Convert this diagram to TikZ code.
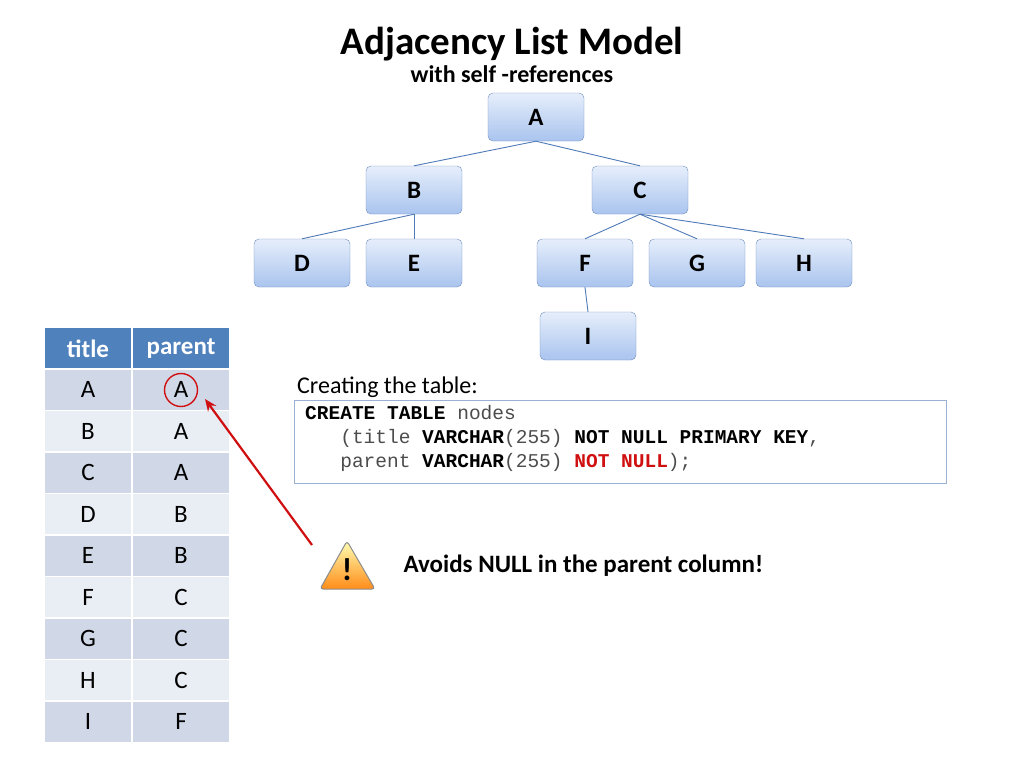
\documentclass[tikz,border=0pt]{standalone}
\usepackage{fontspec}
\setmainfont{Carlito}
\setmonofont{Liberation Mono}
\usetikzlibrary{calc, arrows.meta, positioning}
\definecolor{hdrblue}{HTML}{4F81BD}
\definecolor{rowdark}{HTML}{D0D8E8}
\definecolor{rowlight}{HTML}{E9EDF4}
\definecolor{boxtop}{HTML}{E6EEFB}
\definecolor{boxbot}{HTML}{A9C4EE}
\definecolor{boxline}{HTML}{6F8FBF}
\definecolor{linkblue}{HTML}{4F7AB8}
\definecolor{sqlred}{HTML}{D01010}
\tikzset{
  treebox/.style={draw=boxline, rounded corners=5pt, top color=boxtop, bottom color=boxbot,
    minimum width=96pt, minimum height=48pt, font=\fontsize{25}{27}\selectfont\bfseries},
  link/.style={draw=linkblue, line width=0.9pt},
  cell/.style={minimum width=86pt, minimum height=40pt, font=\fontsize{25}{27}\selectfont}
}
\begin{document}
\begin{tikzpicture}[x=1pt,y=-1pt]
            \useasboundingbox (0,0) rectangle (1024,768);
            % title
            \node[font=\fontsize{39}{41}\selectfont\bfseries] (ttl) at (512,44) {Adjacency List Model};
            \node[font=\fontsize{24}{26}\selectfont\bfseries] (sub) at (512,74) {with self -references};
            % tree
            \node[treebox] (a) at (536,117) {A};
            \node[treebox] (b) at (414,190) {B};
            \node[treebox] (c) at (640,190) {C};
            \node[treebox] (d) at (302,263) {D};
            \node[treebox] (e) at (414,263) {E};
            \node[treebox] (f) at (585,263) {F};
            \node[treebox] (g) at (697,263) {G};
            \node[treebox] (h) at (804,263) {H};
            \node[treebox] (i) at (588,336) {I};
            \draw[link] (a.south) -- (b.north);
            \draw[link] (a.south) -- (c.north);
            \draw[link] (b.south) -- (d.north);
            \draw[link] (b.south) -- (e.north);
            \draw[link] (c.south) -- (f.north);
            \draw[link] (c.south) -- (g.north);
            \draw[link] (c.south) -- (h.north);
            \draw[link] (f.south) -- (i.north);
            % table
            \fill[hdrblue] (45,328) rectangle (229,369);
            \node[font=\fontsize{25}{27}\selectfont\bfseries, text=white] (htitle) at (88,349) {title};
            \node[font=\fontsize{25}{27}\selectfont\bfseries, text=white] (hparent) at (181,349) {parent};
            \foreach \t/\p [count=\k from 0] in {A/A,B/A,C/A,D/B,E/B,F/C,G/C,H/C,I/F} {
              \pgfmathsetmacro{\ytop}{369+41.5*\k}
              \ifodd\k \def\rc{rowlight}\else\def\rc{rowdark}\fi
              \fill[\rc] (45,\ytop) rectangle (229,\ytop+41.5);
              \node[cell] (t\k) at (88,\ytop+20.75) {\t};
              \node[cell] (p\k) at (181,\ytop+20.75) {\p};
            }
            \foreach \k in {0,...,9} \draw[white, line width=1.5pt] (45,369+41.5*\k) -- (229,369+41.5*\k);
            \draw[white, line width=1.5pt] (132,328) -- (132,743);
            % circle and arrow
            \node[draw=sqlred, circle, line width=1.4pt, minimum size=33pt] (ring) at (181,390) {};
            \coordinate (tail) at (312,545);
            \draw[sqlred, line width=2.2pt, -{Stealth[length=12pt,width=10pt]}] (tail) -- (205,399);
            % code
            \node[anchor=south west, inner sep=0pt, font=\fontsize{24}{26}\selectfont] (cap) at (297,398) {Creating the table:};
            \node[draw=boxline!70, anchor=north west, minimum width=652pt, minimum height=83pt] (code) at (294,400) {};
            \node[anchor=north west, align=left, inner sep=0pt, font=\fontsize{19.5}{24}\selectfont\ttfamily] (sql) at (305,405)
              {\textbf{CREATE TABLE} {\color{black!70}nodes}\\
               {\color{black!70}\ \ \ (title} \textbf{VARCHAR}{\color{black!70}(255)} \textbf{NOT NULL PRIMARY KEY}{\color{black!70},}\\
               {\color{black!70}\ \ \ parent} \textbf{VARCHAR}{\color{black!70}(255)} {\color{sqlred}\textbf{NOT NULL}}{\color{black!70});}};
            % warning
            \shade[top color=yellow!30, bottom color=orange!90, draw=black!45, rounded corners=3pt, line width=1pt]
              (347,541) -- (375,589) -- (320,589) -- cycle;
            \node[font=\fontsize{32}{32}\selectfont\bfseries] (bang) at (347,570) {!};
            \node[anchor=west, font=\fontsize{25}{27}\selectfont\bfseries] (warn) at (400,566) {Avoids NULL in the parent column!};
\end{tikzpicture}
\end{document}
